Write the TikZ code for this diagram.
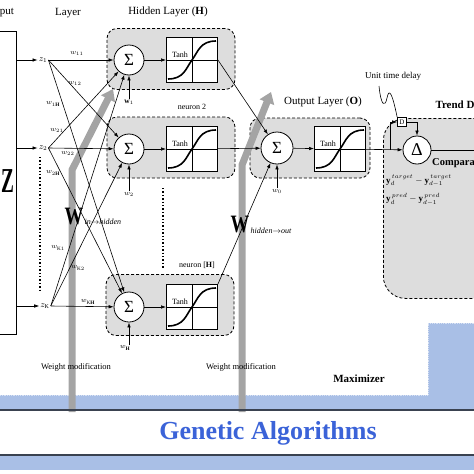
\documentclass[tikz,border=0pt]{standalone}
\usepackage{fontspec}
\setmainfont{Liberation Serif}
\usetikzlibrary{arrows.meta,positioning,calc}
\definecolor{gablue}{HTML}{A9BFE6}
\definecolor{gatext}{HTML}{3B63D8}
\definecolor{garule}{HTML}{3A4250}
\definecolor{cellgray}{HTML}{DDDDDD}
\definecolor{modgray}{HTML}{A4A4A4}

\begin{document}
\begin{tikzpicture}[x=1pt,y=-1pt,
  font=\fontsize{8}{9}\selectfont,
  neuron/.style={circle,draw,line width=0.8pt,fill=white,minimum size=30pt,
                 inner sep=0pt,font=\fontsize{17}{17}\selectfont},
  cell/.style={draw,line width=0.8pt,dash pattern=on 3pt off 2pt,fill=cellgray,
               rounded corners=10pt,minimum width=128pt,minimum height=61pt},
  tanhbox/.style={draw,line width=0.9pt,fill=white,minimum width=51pt,
                  minimum height=45pt,inner sep=0pt},
  wire/.style={-{Latex[length=5pt,width=3.5pt]},line width=0.6pt},
  wlabel/.style={inner sep=0.5pt,font=\fontsize{7.5}{8}\selectfont},
  head/.style={font=\fontsize{11}{12}\selectfont},
  modarrow/.style={line width=7pt,draw=modgray,-{Triangle[length=11pt,width=15pt]}},
  modtext/.style={font=\fontsize{8.5}{9}\selectfont},
  bigw/.style={font=\fontsize{25}{25}\selectfont\bfseries,inner sep=0pt,xscale=0.75},
  wsub/.style={font=\fontsize{8}{9}\selectfont\itshape,inner sep=0pt,anchor=west},
]
\path[use as bounding box] (0,0) rectangle (474,474);
\clip (0,0) rectangle (474,474);

% genetic algorithm band
\fill[gablue] (0,395) -- (428,395) -- (428,323) -- (480,323) -- (480,410)
  -- (0,410) -- cycle;
\draw[white!55!gablue,densely dotted,line width=0.8pt]
  (0,395) -- (428,395) -- (428,323) -- (480,323);
\fill[gablue] (0,455) rectangle (480,470);

% neuron cells
\node[cell] (cell1) at (171,59) {};
\node[cell] (cell2) at (171,147.5) {};
\node[cell] (cellH) at (170,305) {};
\node[cell,minimum width=120pt,minimum height=60pt] (cellO) at (310,148) {};
\node[cell,rounded corners=22pt,anchor=north west,minimum width=130pt,
      minimum height=180pt] (trend) at (383,118) {};

% weight modification arrows
\coordinate (modbase1) at (72,412);
\coordinate (modtip1) at (113,89);
\coordinate (modbase2) at (242,412);
\coordinate (modtip2) at (271,92);
\draw[modarrow] (modbase1) -- (72,170) -- (modtip1);
\draw[modarrow] (modbase2) -- (242,165) -- (modtip2);

\draw[garule,line width=1.2pt] (0,410) -- (480,410) (0,455) -- (480,455);
\node[font=\fontsize{26}{26}\selectfont\bfseries,text=gatext] (ga) at (268,433)
  {Genetic Algorithms};
\node[font=\fontsize{11}{12}\selectfont\bfseries] (maxi) at (359,379) {Maximizer};
\node[modtext] (wm1) at (76,367) {Weight modification};
\node[modtext] (wm2) at (241,367) {Weight modification};

% input block
\node[draw,line width=1pt,anchor=north east,minimum width=40pt,
      minimum height=303pt] (zbox) at (17,31) {};
\node[font=\fontsize{35}{35}\selectfont\bfseries,xscale=0.55,inner sep=0pt]
  (zlet) at (7.5,181) {Z};
\node[head] (inlbl) at (7,13) {put};
\node[head] (laylbl) at (68,13) {Layer};
\node[head] (hidlbl) at (168,12) {Hidden Layer (\textbf{H})};
\node[head] (outlbl) at (323,102) {Output Layer (\textbf{O})};

\node[inner sep=1pt,font=\fontsize{9}{9}\selectfont] (z1) at (43,60) {$z_1$};
\node[inner sep=1pt,font=\fontsize{9}{9}\selectfont] (z2) at (43,148) {$z_2$};
\node[inner sep=1pt,font=\fontsize{9}{9}\selectfont] (zK) at (45,306) {$z_{\mathrm{K}}$};
\foreach \zin in {z1,z2,zK}
  \draw[wire] (zbox.east |- \zin) -- (\zin);
\draw[line width=1.4pt,dotted] (40,157) -- (40,290);
\draw[line width=1.4pt,dotted] (163,188) -- (163,268);

% hidden and output neurons
\node[neuron] (s1) at (129,60) {Σ};
\node[neuron] (s2) at (129,149) {Σ};
\node[neuron] (sH) at (129,307) {Σ};
\node[neuron,minimum size=32pt] (sO) at (277,148) {Σ};
\node[tanhbox] (t1) at (192,60) {};
\node[tanhbox] (t2) at (192,149) {};
\node[tanhbox] (tH) at (192,307) {};
\node[tanhbox] (tO) at (340,149) {};
\foreach \tb in {t1,t2,tH,tO}{
  \draw[line width=0.7pt] (\tb.north) -- (\tb.south) (\tb.west) -- (\tb.east);
  \draw[line width=1.6pt] ($(\tb.center)+(-24,19)$)
    .. controls ($(\tb.center)+(-8,19)$) and ($(\tb.center)+(-6,8)$) .. (\tb.center)
    .. controls ($(\tb.center)+(6,-8)$) and ($(\tb.center)+(8,-19)$)
    .. ($(\tb.center)+(24,-19)$);
  \node[inner sep=0pt] (\tb-lbl) at ($(\tb.center)+(-12,-5)$) {Tanh};
}
\node (n2lbl) at (192,107) {neuron 2};
\node (nHlbl) at (197,265) {neuron [\textbf{H}]};

% input weights
\foreach \zin in {z1,z2,zK}
  \foreach \sum in {s1,s2,sH}
    \draw[wire] (\zin.east) -- (\sum);
\node[wlabel] (w11) at (77,53) {$w_{11}$};
\node[wlabel] (w12) at (75,83) {$w_{12}$};
\node[wlabel] (w1H) at (53,104) {$w_{1\mathbf{H}}$};
\node[wlabel] (w21) at (57,130) {$w_{21}$};
\node[wlabel] (w22) at (68,153) {$w_{22}$};
\node[wlabel] (w2H) at (53,173) {$w_{2\mathbf{H}}$};
\node[wlabel] (wK1) at (58,248) {$w_{\mathrm{K}1}$};
\node[wlabel] (wK2) at (78,268) {$w_{\mathrm{K}2}$};
\node[wlabel] (wKH) at (88,302) {$w_{\mathrm{K}\mathbf{H}}$};

% biases
\node[wlabel] (b1) at (129,102) {$\mathbf{w}_1$};
\node[wlabel] (b2) at (129,194) {$w_2$};
\node[wlabel] (bH) at (125,348) {$w_{\mathbf{H}}$};
\node[wlabel] (b0) at (277,191) {$w_0$};
\draw[wire] (s1.south |- b1.north) -- (s1.south);
\draw[wire] (s2.south |- b2.north) -- (s2.south);
\draw[wire] (sH.south |- bH.north) -- (sH.south);
\draw[wire] (sO.south |- b0.north) -- (sO.south);

\draw[wire] (s1) -- (t1);
\draw[wire] (s2) -- (t2);
\draw[wire] (sH) -- (tH);
\draw[wire] (sO) -- (tO);
\draw[wire] (t1.east) -- (sO);
\draw[wire] (t2) -- (sO);
\draw[wire] (tH.north east) -- (sO);

% weight matrices
\node[bigw] (win) at (74,217) {W};
\node[wsub] (winsub) at ([xshift=1pt,yshift=-5pt]win.east) {in$\rightarrow$hidden};
\node[bigw] (wout) at (240,225) {W};
\node[wsub] (woutsub) at ([xshift=1pt,yshift=-6pt]wout.east) {hidden$\rightarrow$out};

% trend detection
\node[neuron,minimum size=28pt,font=\fontsize{18}{18}\selectfont] (dlt) at (417,150) {Δ};
\node[draw,line width=0.7pt,fill=white,minimum size=9pt,inner sep=0pt,
      font=\fontsize{7}{7}\selectfont] (delay) at (402,122) {D};
\coordinate (br) at (390,149.5);
\coordinate (trendout) at (480,150);
\draw[wire] (tO) -- (dlt);
\draw[wire] (br) |- (delay);
\draw[wire] (delay.east) -| (dlt.north);
\draw[line width=0.8pt] (dlt) -- (trendout);
\node[font=\fontsize{9}{10}\selectfont] (utd) at (393,76) {Unit time delay};
\coordinate (wavestart) at (379,86);
\draw[line width=0.6pt] (wavestart) .. controls (381,106) and (385,108) .. (387,98)
  .. controls (389,88) and (392,92) .. (delay.north west);
\node[anchor=west,font=\fontsize{11}{12}\selectfont\bfseries] (trendlbl) at (432,105)
  {Trend D};
\node[anchor=west,inner sep=0pt,font=\fontsize{10.5}{11}\selectfont\bfseries] (complbl)
  at (432,163) {Compara};
\node[anchor=west,inner sep=0pt,font=\fontsize{9}{10}\selectfont] (ftgt) at (386,181)
  {$\mathbf{y}_d^{\,target}-\mathbf{y}_{d-1}^{\,target}$};
\node[anchor=west,inner sep=0pt,font=\fontsize{9}{10}\selectfont] (fprd) at (386,199)
  {$\mathbf{y}_d^{\,pred}-\mathbf{y}_{d-1}^{\,pred}$};

\end{tikzpicture}
\end{document}
